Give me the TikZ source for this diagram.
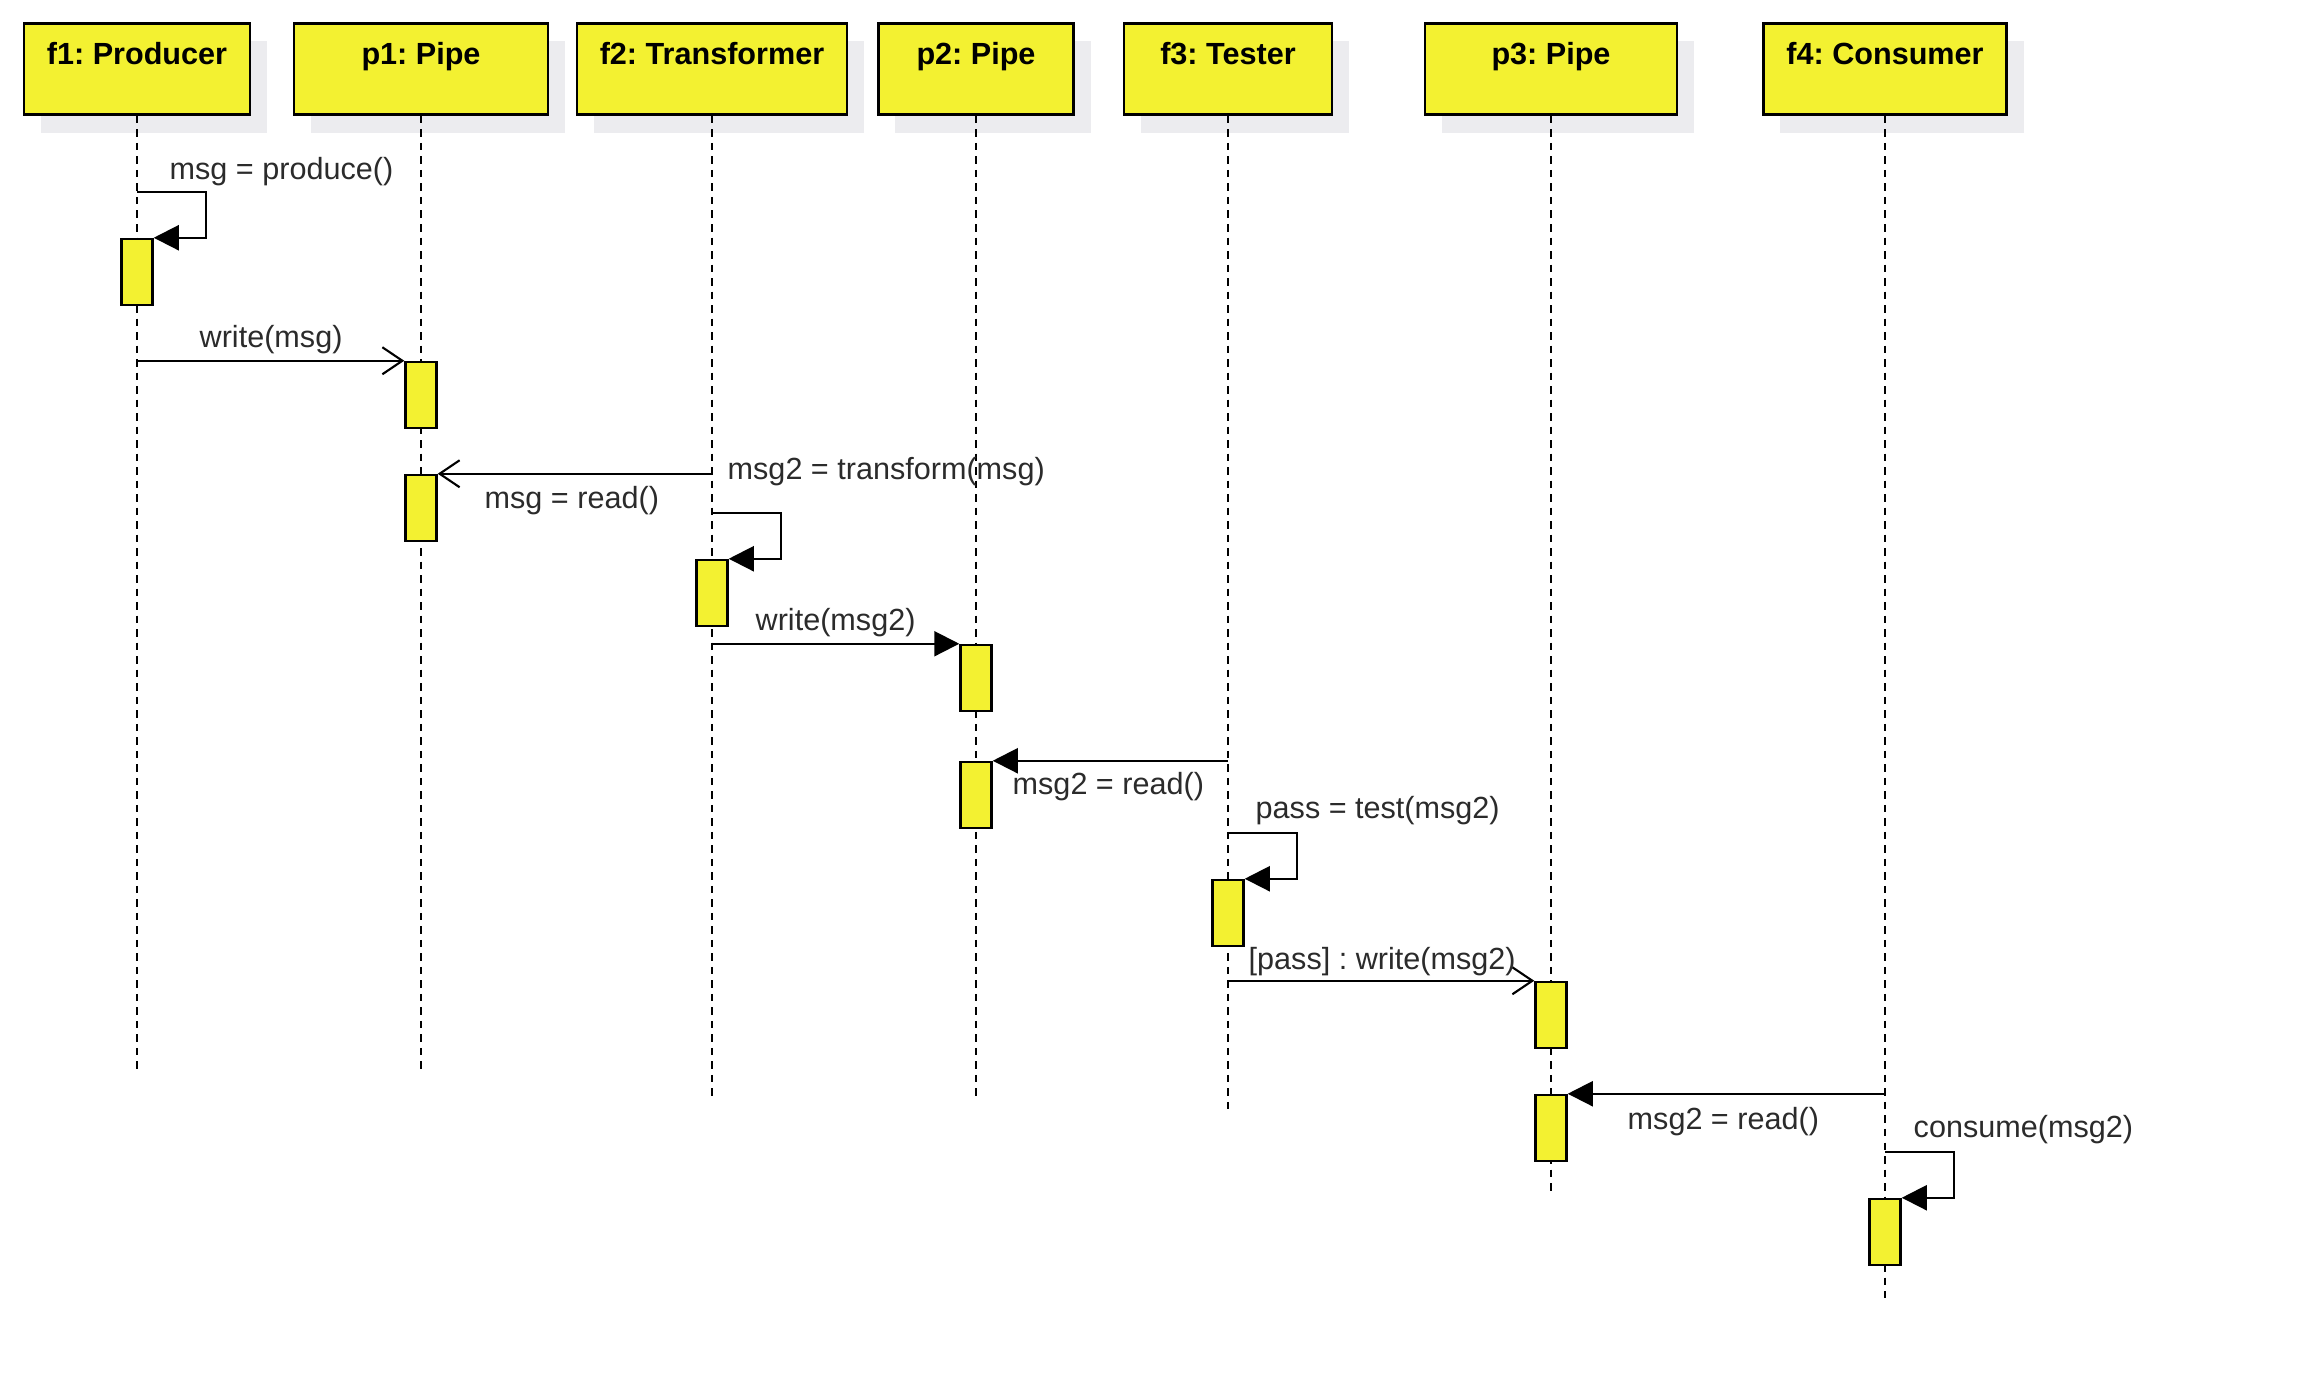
\documentclass[tikz,border=0pt]{standalone}
\usepackage{fontspec}
\setmainfont{Liberation Sans}
\usetikzlibrary{arrows.meta,shadows}
\definecolor{umlyellow}{HTML}{F3F131}
\definecolor{shadowgray}{HTML}{ECECEF}
\definecolor{msgtext}{HTML}{2B2B2B}
\frenchspacing

\begin{document}
\begin{tikzpicture}[
            x=0.01cm, y=-0.01cm,
            head/.style={rectangle, draw=black, fill=umlyellow, line width=0.8pt,
                         inner xsep=0pt, inner ysep=0pt, text height=0.41cm, text depth=0.50cm,
                         font=\fontsize{8.7}{10.4}\selectfont\bfseries,
                         general shadow={fill=shadowgray, draw=none, shadow xshift=0.17cm, shadow yshift=-0.18cm}},
            act/.style={rectangle, draw=black, fill=umlyellow, line width=0.7pt,
                        minimum width=0.31cm, minimum height=0.66cm, inner sep=0pt},
            lifeline/.style={line width=0.6pt, dash pattern=on 0.075cm off 0.06cm},
            call/.style={-{Triangle[length=0.25cm, width=0.25cm]}, line width=0.6pt},
            reply/.style={-{Straight Barb[length=0.2cm, width=0.27cm]}, line width=0.6pt},
            lbl/.style={anchor=west, inner sep=0pt, text=msgtext, font=\fontsize{8.7}{10.4}\selectfont}
        ]
            \useasboundingbox (0,0) rectangle (2299,1393);

            \node[head, minimum width=2.26cm] (f1) at (137,69) {f1: Producer};
            \node[head, minimum width=2.54cm] (p1) at (421,69) {p1: Pipe};
            \node[head, minimum width=2.70cm] (f2) at (712,69) {f2: Transformer};
            \node[head, minimum width=1.95cm] (p2) at (976,69) {p2: Pipe};
            \node[head, minimum width=2.08cm] (f3) at (1228,69) {f3: Tester};
            \node[head, minimum width=2.52cm] (p3) at (1551,69) {p3: Pipe};
            \node[head, minimum width=2.43cm] (f4) at (1885,69) {f4: Consumer};

            % Lifelines
            \coordinate (f1end) at (137,1070);
            \coordinate (p1end) at (421,1070);
            \coordinate (f2end) at (712,1097);
            \coordinate (p2end) at (976,1097);
            \coordinate (f3end) at (1228,1114);
            \coordinate (p3end) at (1551,1195);
            \coordinate (f4end) at (1885,1298);
            \draw[lifeline] (f1.south) -- (f1end);
            \draw[lifeline] (p1.south) -- (p1end);
            \draw[lifeline] (f2.south) -- (f2end);
            \draw[lifeline] (p2.south) -- (p2end);
            \draw[lifeline] (f3.south) -- (f3end);
            \draw[lifeline] (p3.south) -- (p3end);
            \draw[lifeline] (f4.south) -- (f4end);

            \node[act] (f1a) at (137,272) {};
            \node[act] (p1a) at (421,395) {};
            \node[act] (p1b) at (421,508) {};
            \node[act] (f2a) at (712,593) {};
            \node[act] (p2a) at (976,678) {};
            \node[act] (p2b) at (976,795) {};
            \node[act] (f3a) at (1228,913) {};
            \node[act] (p3a) at (1551,1015) {};
            \node[act] (p3b) at (1551,1128) {};
            \node[act] (f4a) at (1885,1232) {};

            % Messages
            \draw[call] ([yshift=4.6mm]f1a.north) -- ++(69,0) |- (f1a.north east);
            \draw[reply] (f1 |- p1a.north west) -- (p1a.north west);
            \draw[reply] (f2 |- p1b.north east) -- (p1b.north east);
            \draw[call] ([yshift=4.6mm]f2a.north) -- ++(69,0) |- (f2a.north east);
            \draw[call] (f2 |- p2a.north west) -- (p2a.north west);
            \draw[call] (f3 |- p2b.north east) -- (p2b.north east);
            \draw[call] ([yshift=4.6mm]f3a.north) -- ++(69,0) |- (f3a.north east);
            \draw[reply] (f3 |- p3a.north west) -- (p3a.north west);
            \draw[call] (f4 |- p3b.north east) -- (p3b.north east);
            \draw[call] ([yshift=4.6mm]f4a.north) -- ++(69,0) |- (f4a.north east);

            \node[lbl] (lproduce) at (169,172) {msg = produce()};
            \node[lbl] (lwrite) at (199,340) {write(msg)};
            \node[lbl] (ltransform) at (727,472) {msg2 = transform(msg)};
            \node[lbl] (lread) at (484,501) {msg = read()};
            \node[lbl] (lwritetwo) at (755,623) {write(msg2)};
            \node[lbl] (lreadtwo) at (1012,787) {msg2 = read()};
            \node[lbl] (ltest) at (1255,811) {pass = test(msg2)};
            \node[lbl] (lpass) at (1248,962) {[pass] : write(msg2)};
            \node[lbl] (lreadthree) at (1627,1122) {msg2 = read()};
            \node[lbl] (lconsume) at (1913,1130) {consume(msg2)};
        \end{tikzpicture}
\end{document}
